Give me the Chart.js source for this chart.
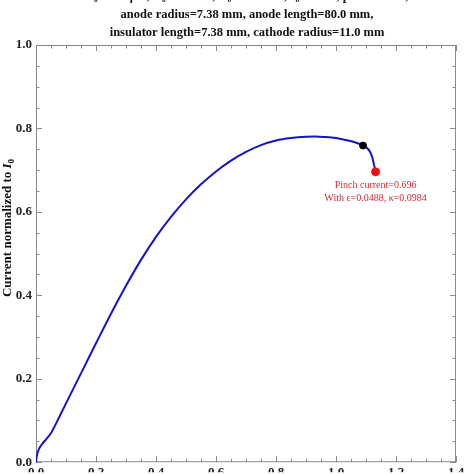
<!DOCTYPE html>
<html><head><meta charset="utf-8">
<script src="https://cdn.jsdelivr.net/npm/chart.js@4.4.1/dist/chart.umd.min.js"></script>
<style>html,body{margin:0;padding:0;background:#fff}#wrap{width:474px;height:474px}</style>
</head><body><div id="wrap"><canvas id="c" width="474" height="474"></canvas></div>
<script>
const titleLines = [
  "L\u2080=32.0 \u03bcH, V\u2080=15.0 kV, R\u2080=12.0 m\u03a9, r\u2080=5 mm, p=4.00 Torr,",
  "anode radius=7.38 mm, anode length=80.0 mm,",
  "insulator length=7.38 mm, cathode radius=11.0 mm"
];
const yAxisTitle = "Current normalized to";
const xTicks = [0.0, 0.2, 0.4, 0.6, 0.8, 1.0, 1.2, 1.4];
const yTicks = [0.0, 0.2, 0.4, 0.6, 0.8, 1.0];
const curveX = [0, 0.002, 0.005, 0.01, 0.02, 0.035, 0.05, 0.065, 0.08, 0.1, 0.125, 0.15, 0.175, 0.2, 0.25, 0.3, 0.35, 0.4, 0.45, 0.5, 0.55, 0.6, 0.65, 0.7, 0.75, 0.8, 0.85, 0.9, 0.93, 0.96, 1.0, 1.04, 1.07, 1.09, 1.105, 1.115, 1.122, 1.127, 1.132];
const curveY = [0, 0.012, 0.022, 0.032, 0.043, 0.056, 0.07, 0.09, 0.112, 0.141, 0.177, 0.213, 0.249, 0.285, 0.356, 0.423, 0.485, 0.54, 0.588, 0.63, 0.666, 0.697, 0.723, 0.744, 0.76, 0.771, 0.777, 0.78, 0.7805, 0.7795, 0.777, 0.771, 0.765, 0.759, 0.752, 0.742, 0.728, 0.712, 0.696];
const markerBlack = [1.09, 0.759];
const markerRed = [1.132, 0.696];
const annotationLines = ["Pinch current=0.696", "With \u03f5=0.0488, \u03ba=0.0984"];

const SERIF = '"Liberation Serif", "DejaVu Serif", serif';

const framePlugin = {
  id: 'frame',
  beforeDatasetsDraw(chart) {
    const {ctx, chartArea: a, scales: {x, y}} = chart;
    ctx.save();
    ctx.strokeStyle = '#8a8a8a';
    ctx.lineWidth = 1;
    ctx.strokeRect(a.left + 0.5, a.top + 0.5, a.right - a.left - 1, a.bottom - a.top - 1);
    ctx.beginPath();
    for (let i = 0; i <= 28; i++) {
      const v = i * 0.05;
      const px = Math.round(x.getPixelForValue(v)) + 0.5;
      const len = (i % 4 === 0) ? 6 : 3.5;
      ctx.moveTo(px, a.bottom); ctx.lineTo(px, a.bottom - len);
      ctx.moveTo(px, a.top); ctx.lineTo(px, a.top + len);
    }
    for (let i = 0; i <= 20; i++) {
      const v = i * 0.05;
      const py = Math.round(y.getPixelForValue(v)) + 0.5;
      const len = (i % 4 === 0) ? 6 : 3.5;
      ctx.moveTo(a.left, py); ctx.lineTo(a.left + len, py);
      ctx.moveTo(a.right, py); ctx.lineTo(a.right - len, py);
    }
    ctx.stroke();
    ctx.restore();
  },
  afterDraw(chart) {
    const {ctx, scales: {x, y}} = chart;
    ctx.save();
    ctx.fillStyle = '#111';
    ctx.font = 'bold 12.5px ' + SERIF;
    ctx.textAlign = 'center';
    ctx.textBaseline = 'middle';
    const cx = 247;
    titleLines.forEach((t, i) => ctx.fillText(t, cx, -3 + i * 18));
    ctx.fillStyle = '#d42a3a';
    ctx.font = '10px ' + SERIF;
    const ax = x.getPixelForValue(markerRed[0]);
    const ay = y.getPixelForValue(markerRed[1]);
    annotationLines.forEach((t, i) => ctx.fillText(t, ax, ay + 14 + i * 13));
    ctx.fillStyle = '#111';
    ctx.translate(8, 228);
    ctx.rotate(-Math.PI / 2);
    ctx.textAlign = 'left';
    ctx.font = 'bold 13px ' + SERIF;
    const w1 = ctx.measureText(yAxisTitle + ' ').width;
    ctx.font = 'bold italic 13px ' + SERIF;
    const wI = ctx.measureText('I').width;
    ctx.font = 'bold 9px ' + SERIF;
    const w0 = ctx.measureText('0').width;
    const start = -(w1 + wI + w0) / 2;
    ctx.font = 'bold 13px ' + SERIF;
    ctx.fillText(yAxisTitle, start, 0);
    ctx.font = 'bold italic 13px ' + SERIF;
    ctx.fillText('I', start + w1, 0);
    ctx.font = 'bold 9px ' + SERIF;
    ctx.fillText('0', start + w1 + wI, 4);
    ctx.restore();
  }
};

new Chart(document.getElementById('c'), {
  type: 'scatter',
  data: {
    datasets: [
      {
        type: 'line',
        data: curveX.map((v, i) => ({x: v, y: curveY[i]})),
        borderColor: '#1414c8',
        borderWidth: 2,
        pointRadius: 0,
        cubicInterpolationMode: 'monotone',
        fill: false,
        order: 3
      },
      {
        data: [{x: markerBlack[0], y: markerBlack[1]}],
        backgroundColor: '#000',
        borderColor: '#000',
        pointRadius: 3.5,
        order: 1
      },
      {
        data: [{x: markerRed[0], y: markerRed[1]}],
        backgroundColor: '#ee1111',
        borderColor: '#ee1111',
        pointRadius: 4,
        order: 1
      }
    ]
  },
  options: {
    responsive: false,
    animation: false,
    events: [],
    layout: {padding: {top: 45, right: 18, left: 0, bottom: 0}},
    plugins: {legend: {display: false}, tooltip: {enabled: false}, title: {display: false}},
    scales: {
      x: {
        type: 'linear', min: 0, max: 1.4,
        afterFit: s => { s.height = 10; },
        grid: {display: false, drawTicks: false},
        border: {display: false},
        afterBuildTicks: s => { s.ticks = xTicks.map(v => ({value: v})); },
        ticks: {padding: 3, color: '#222', font: {family: SERIF, size: 13, weight: 'bold'}, maxRotation: 0,
                callback: v => Number(v).toFixed(1)}
      },
      y: {
        type: 'linear', min: 0, max: 1.0,
        afterFit: s => { s.width = 36; },
        grid: {display: false, drawTicks: false},
        border: {display: false},
        afterBuildTicks: s => { s.ticks = yTicks.map(v => ({value: v})); },
        ticks: {padding: 4, color: '#222', font: {family: SERIF, size: 13, weight: 'bold'},
                callback: v => Number(v).toFixed(1)}
      }
    }
  },
  plugins: [framePlugin]
});
</script></body></html>
